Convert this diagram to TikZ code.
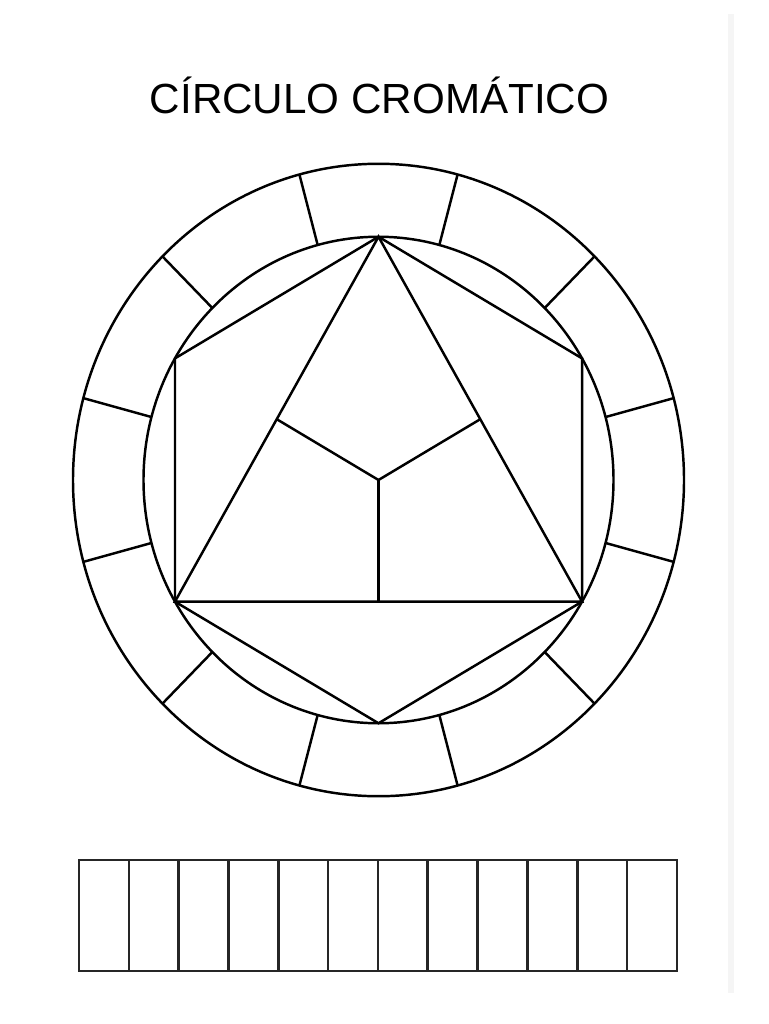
\documentclass[tikz,border=0pt]{standalone}
\usepackage{fontspec}
\setmainfont{Liberation Sans}
\usetikzlibrary{calc}
\tikzset{
    trazo/.style={line width=1.4pt, black},
    celda/.style={line width=1.5pt, black!85}
}
\begin{document}
\begin{tikzpicture}[x=0.02cm,y=-0.02cm]
        \useasboundingbox (0,0) rectangle (768,1024);
        \fill[gray!8] (728,14) rectangle (734,993);

        \node[font=\fontsize{24}{28}\selectfont] (titulo) at (379.5,95) {CÍRCULO CROMÁTICO};

        \begin{scope}[shift={(378.5,480)}, x=0.02cm, y=0.0207cm]
            % anillo exterior
            \draw[trazo] (0,0) circle[radius=305.5];
            \draw[trazo] (0,0) circle[radius=235];
            \foreach \a in {15,45,...,345} {
                \draw[trazo] (\a:235) -- (\a:305.5);
            }

            % hexagono y triangulo
            \foreach \i/\a in {1/90,2/150,3/210,4/270,5/330,6/30} {
                \coordinate (v\i) at (\a:235);
            }
            \coordinate (c) at (0,0);
            \draw[trazo] (v1) -- (v2) -- (v3) -- (v4) -- (v5) -- (v6) -- cycle;
            \draw[trazo] (v1) -- (v3) -- (v5) -- cycle;
            \draw[trazo] (c) -- ($(v1)!0.5!(v3)$);
            \draw[trazo] (c) -- ($(v1)!0.5!(v5)$);
            \draw[trazo] (c) -- ($(v3)!0.5!(v5)$);
        \end{scope}

        % barra de colores
        \foreach \x in {0,...,11} {
            \draw[celda] (79+\x*49.83,860) rectangle ++(49.83,111);
        }
    \end{tikzpicture}
\end{document}
